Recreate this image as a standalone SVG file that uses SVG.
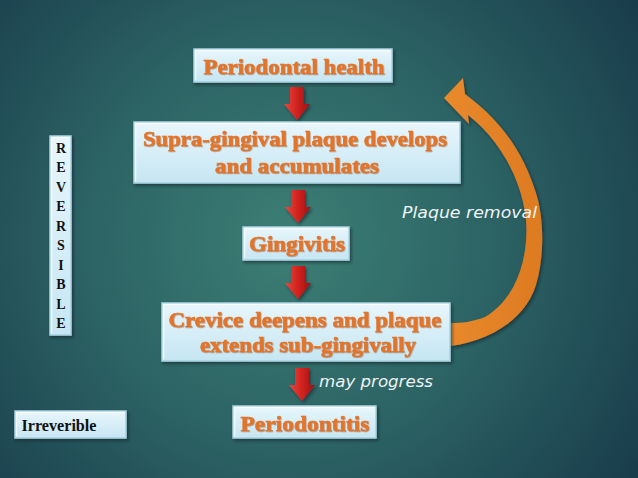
<svg xmlns="http://www.w3.org/2000/svg" width="638" height="478" viewBox="0 0 638 478">
<defs>
<radialGradient id="bg" cx="290" cy="240" r="430" gradientUnits="userSpaceOnUse">
<stop offset="0" stop-color="#3c7f75"/>
<stop offset="0.5" stop-color="#2b6163"/>
<stop offset="1" stop-color="#183a4a"/>
</radialGradient>
<linearGradient id="boxg" x1="0" y1="0" x2="0" y2="1">
<stop offset="0" stop-color="#e8f6fc"/>
<stop offset="1" stop-color="#c6e6f3"/>
</linearGradient>
<linearGradient id="redg" x1="0" y1="0" x2="1" y2="0">
<stop offset="0" stop-color="#e8473d"/>
<stop offset="0.5" stop-color="#d0231f"/>
<stop offset="1" stop-color="#9c0f12"/>
</linearGradient>
<linearGradient id="orng" x1="0" y1="0" x2="1" y2="0">
<stop offset="0" stop-color="#e98a2c"/>
<stop offset="1" stop-color="#dd7a22"/>
</linearGradient>
<filter id="sh" x="-10%" y="-10%" width="125%" height="140%">
<feDropShadow dx="1.5" dy="2" stdDeviation="1.5" flood-color="#0a1e25" flood-opacity="0.6"/>
</filter>
<filter id="tsh" x="-5%" y="-20%" width="110%" height="150%">
<feDropShadow dx="0.6" dy="0.8" stdDeviation="0.4" flood-color="#7a3a10" flood-opacity="0.5"/>
</filter>
<path id="arr" d="M -7,0 H 7 V 17 H 13 L 0,33 L -13,17 H -7 Z"/>
</defs>
<style>
.box{fill:url(#boxg);stroke:#a9d2e2;stroke-width:1.5;filter:url(#sh)}
.bev{fill:none;stroke:#ffffff;stroke-opacity:0.7;stroke-width:1.5}
.t{font-family:"Liberation Serif","Times New Roman",serif;font-weight:bold;font-size:20px;fill:#e3742a;stroke:#e3742a;stroke-width:0.5;text-anchor:middle;filter:url(#tsh)}
.k{font-family:"Liberation Serif","Times New Roman",serif;font-weight:bold;fill:#111;text-anchor:middle}
.i{font-family:"DejaVu Sans",sans-serif;font-style:italic;font-size:16px;fill:#eef4f5}
.ra{fill:url(#redg);filter:url(#sh)}
</style>
<rect width="638" height="478" fill="url(#bg)"/>

<g id="connectors">
<use href="#arr" class="ra" x="297" y="87"/>
<use href="#arr" class="ra" x="298" y="190"/>
<use href="#arr" class="ra" x="298" y="266"/>
<use href="#arr" class="ra" x="302" y="368"/>
<path id="plaque-removal-arrow" d="M 451,346 C 490,340 525,320 536,285 C 545,255 544,215 535,190 C 522,150 500,120 465,94 L 463,78 L 444,98 L 469,124 L 468,115 C 500,140 522,180 526,220 C 529,260 515,300 485,317 C 472,322 462,323 451,323 Z" fill="url(#orng)" filter="url(#sh)"/>
<text class="i" x="402" y="218" textLength="135" lengthAdjust="spacingAndGlyphs">Plaque removal</text>
<text class="i" x="319" y="387" textLength="114" lengthAdjust="spacingAndGlyphs">may progress</text>
</g>

<g id="periodontal-health">
<rect class="box" x="194" y="49" width="198" height="33"/>
<path class="bev" d="M 195.5,80.5 V 50.5 H 390.5"/>
<text class="t" x="294" y="73.5" textLength="181" lengthAdjust="spacingAndGlyphs">Periodontal health</text>
</g>

<g id="supra-gingival">
<rect class="box" x="134" y="122" width="326" height="61"/>
<path class="bev" d="M 135.5,181.5 V 123.5 H 458.5"/>
<text class="t" x="295" y="146" textLength="304" lengthAdjust="spacingAndGlyphs">Supra-gingival plaque develops</text>
<text class="t" x="297" y="173" textLength="164" lengthAdjust="spacingAndGlyphs">and accumulates</text>
</g>

<g id="gingivitis">
<rect class="box" x="243" y="227" width="106" height="33"/>
<path class="bev" d="M 244.5,258.5 V 228.5 H 347.5"/>
<text class="t" x="297" y="251" textLength="96" lengthAdjust="spacingAndGlyphs">Gingivitis</text>
</g>

<g id="crevice">
<rect class="box" x="162" y="303" width="288" height="58"/>
<path class="bev" d="M 163.5,359.5 V 304.5 H 448.5"/>
<text class="t" x="305" y="327" textLength="273" lengthAdjust="spacingAndGlyphs">Crevice deepens and plaque</text>
<text class="t" x="308" y="352" textLength="216" lengthAdjust="spacingAndGlyphs">extends sub-gingivally</text>
</g>

<g id="periodontitis">
<rect class="box" x="233" y="406" width="143" height="32"/>
<path class="bev" d="M 234.5,436.5 V 407.5 H 374.5"/>
<text class="t" x="305" y="430.5" style="font-size:21px" textLength="129" lengthAdjust="spacingAndGlyphs">Periodontitis</text>
</g>

<g id="irreverible">
<rect class="box" x="15" y="411" width="111" height="27"/>
<path class="bev" d="M 16.5,436.5 V 412.5 H 124.5"/>
<text class="k" x="59" y="430.5" style="font-size:16px" textLength="75" lengthAdjust="spacingAndGlyphs">Irreverible</text>
</g>

<g id="reversible">
<rect class="box" x="50" y="136" width="21" height="199"/>
<path class="bev" d="M 51.5,333.5 V 137.5 H 69.5"/>
<g class="k" style="font-size:14px">
<text x="61" y="153">R</text>
<text x="61" y="172.4">E</text>
<text x="61" y="191.9">V</text>
<text x="61" y="211.3">E</text>
<text x="61" y="230.8">R</text>
<text x="61" y="250.2">S</text>
<text x="61" y="269.7">I</text>
<text x="61" y="289.1">B</text>
<text x="61" y="308.6">L</text>
<text x="61" y="328">E</text>
</g>
</g>
</svg>
